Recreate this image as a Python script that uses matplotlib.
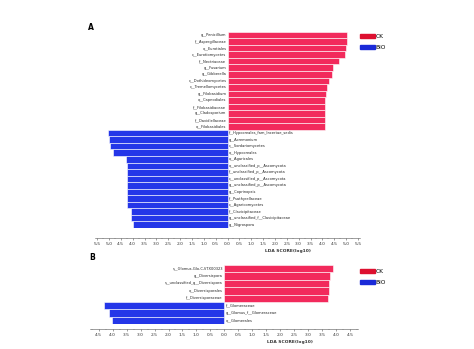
import numpy as np
import matplotlib
matplotlib.use("Agg")
import matplotlib.pyplot as plt
from matplotlib.patches import Patch
from matplotlib.ticker import FuncFormatter, MultipleLocator

# panel A data (LDA scores, BIO as negative)
a_ck_labels = ["g__Penicillium", "f__Aspergillaceae", "o__Eurotiales", "c__Eurotiomycetes",
               "f__Nectriaceae", "g__Fusarium", "g__Gibberella", "c__Dothideomycetes",
               "c__Tremellomycetes", "g__Filobasidium", "o__Capnodiales", "f__Filobasidiaceae",
               "g__Cladosporium", "f__Davidiellaceae", "o__Filobasidiales"]
a_ck_scores = [5.02, 5.02, 5.01, 4.97, 4.71, 4.44, 4.41, 4.30, 4.20, 4.14, 4.12, 4.12, 4.12, 4.12, 4.12]
a_bio_labels = ["f__Hypocreales_fam_Incertae_sedis", "g__Acremonium", "c__Sordariomycetes",
                "o__Hypocreales", "o__Agaricales", "o__unclassified_p__Ascomycota",
                "f__unclassified_p__Ascomycota", "c__unclassified_p__Ascomycota",
                "g__unclassified_p__Ascomycota", "g__Coprinopsis", "f__Psathyrellaceae",
                "c__Agaricomycetes", "f__Clavicipitaceae", "g__unclassified_f__Clavicipitaceae",
                "g__Nigrospora"]
a_bio_scores = [-5.03, -5.00, -4.94, -4.84, -4.30, -4.25, -4.24, -4.24, -4.24, -4.24, -4.24, -4.24,
                -4.06, -4.06, -3.98]

# panel B data
b_ck_labels = ["s__Glomus-Glo-C-VTX00323", "g__Diversispora", "s__unclassified_g__Diversispora",
               "o__Diversisporales", "f__Diversisporaceae"]
b_ck_scores = [3.89, 3.79, 3.76, 3.74, 3.72]
b_bio_labels = ["f__Glomeraceae", "g__Glomus_f__Glomeraceae", "o__Glomerales"]
b_bio_scores = [-4.32, -4.14, -4.04]

RED = "#f22a5c"
BLUE = "#2436e8"
W, H = 474, 349

fig = plt.figure(figsize=(4.74, 3.49), dpi=100)


def lefse(ax, ck_lab, ck_val, bio_lab, bio_val, lim, offset):
    labels = ck_lab + bio_lab
    vals = ck_val + bio_val
    n = len(vals)
    y = np.arange(n)[::-1]
    colors = [RED] * len(ck_val) + [BLUE] * len(bio_val)
    ax.barh(y, vals, height=1.0, color=colors, edgecolor="white", linewidth=0.4)
    for yi, v, lab in zip(y, vals, labels):
        if v > 0:
            ax.text(-0.05, yi, lab, ha="right", va="center", fontsize=2.6, color="#222222")
        else:
            ax.text(0.05, yi, lab, ha="left", va="center", fontsize=2.6, color="#222222")
    ax.set_ylim(-0.5, n - 0.5)
    ax.set_xlim(-lim, lim)
    for s in ["left", "right", "top"]:
        ax.spines[s].set_visible(False)
    ax.spines["bottom"].set_position(("outward", offset))
    ax.spines["bottom"].set_linewidth(0.4)
    ax.spines["bottom"].set_color("#555555")
    ax.set_yticks([])
    ax.xaxis.set_major_locator(MultipleLocator(0.5))
    ax.xaxis.set_minor_locator(MultipleLocator(0.25))
    ax.xaxis.set_major_formatter(FuncFormatter(lambda x, p: "%.1f" % abs(x)))
    ax.tick_params(axis="x", which="major", labelsize=3.2, length=1.5, width=0.4,
                   pad=1.5, colors="#555555", labelcolor="#333333")
    ax.tick_params(axis="x", which="minor", length=0.8, width=0.3, colors="#777777")


axA = fig.add_axes([94.7 / W, 1 - 228 / H, 265.6 / W, 196.3 / H])
lefse(axA, a_ck_labels, a_ck_scores, a_bio_labels, a_bio_scores, 5.6, 7.2)

axB = fig.add_axes([90.4 / W, 1 - 324 / H, 267.8 / W, 59 / H])
lefse(axB, b_ck_labels, b_ck_scores, b_bio_labels, b_bio_scores, 4.8, 3.6)

fig.text(288 / W, 1 - 251 / H, "LDA SCORE(log10)", ha="center", va="center",
         fontsize=3.2, fontweight="bold", color="#333333")
fig.text(290 / W, 1 - 341.7 / H, "LDA SCORE(log10)", ha="center", va="center",
         fontsize=3.2, fontweight="bold", color="#333333")
fig.text(91 / W, 1 - 28 / H, "A", ha="center", va="center", fontsize=5.5, fontweight="bold")
fig.text(92 / W, 1 - 257 / H, "B", ha="center", va="center", fontsize=5.5, fontweight="bold")

handles = [Patch(facecolor="#dd1030", edgecolor="#dd1030"),
           Patch(facecolor="#1a2ad8", edgecolor="#1a2ad8")]
for ytop in [33, 268]:
    fig.legend(handles, ["CK", "BIO"], loc="upper left",
               bbox_to_anchor=(359 / W, 1 - ytop / H), fontsize=4.2, frameon=False,
               handlelength=2.5, handleheight=0.7, handletextpad=0.1, labelspacing=0.95,
               borderpad=0.2, borderaxespad=0)

fig.savefig("out.png", dpi=100)
